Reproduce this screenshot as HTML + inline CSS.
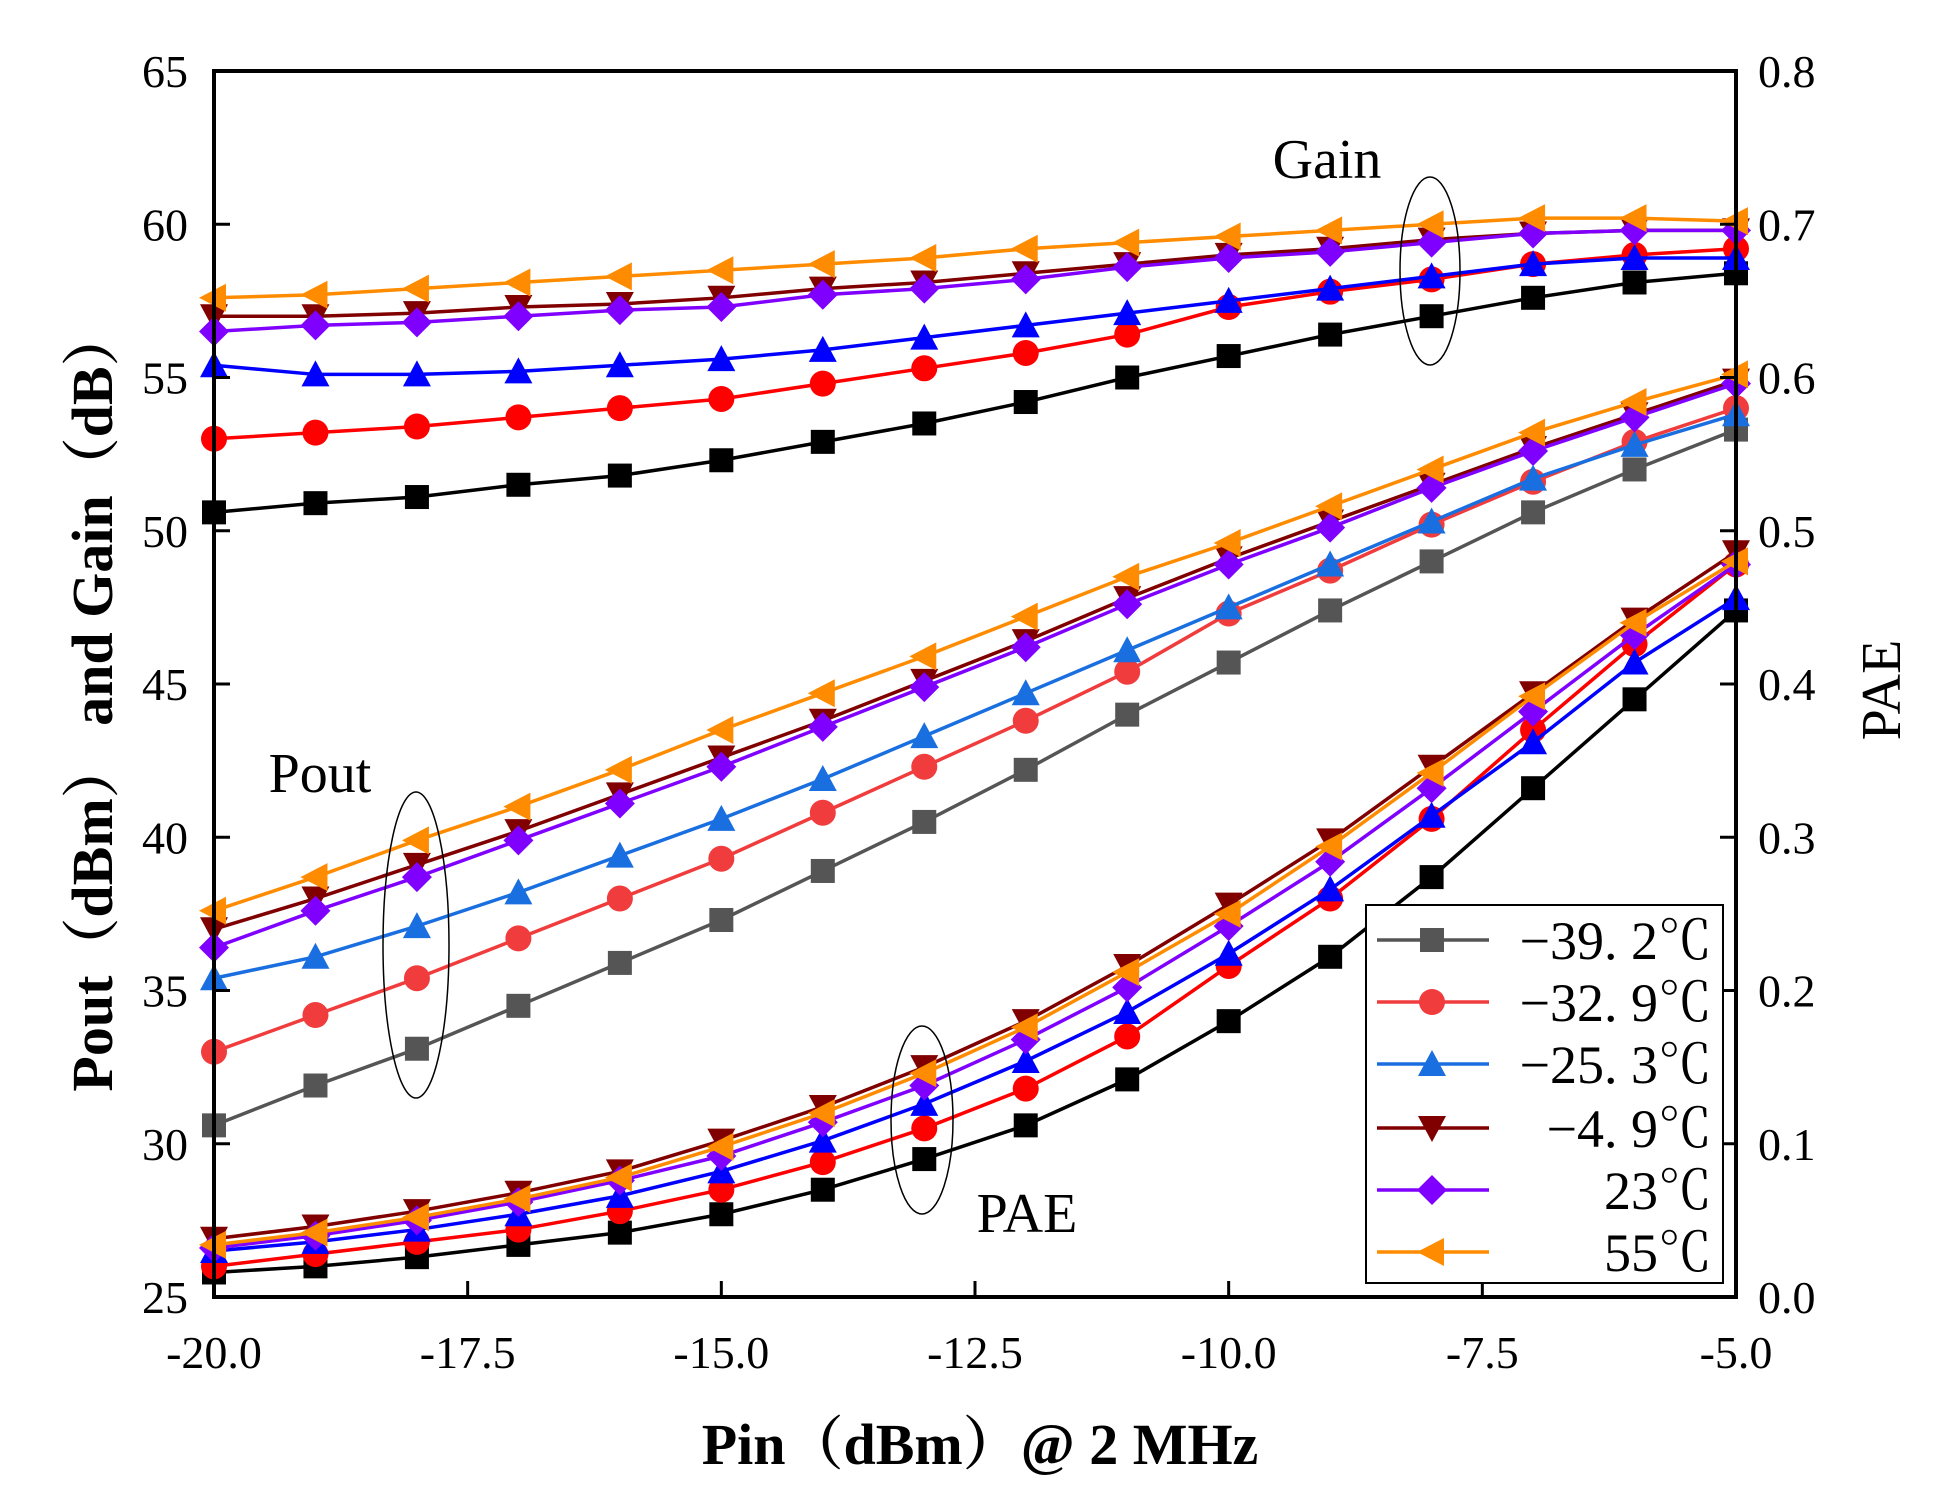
<!DOCTYPE html>
<html><head><meta charset="utf-8"><style>
html,body{margin:0;padding:0;background:#fff;}
svg{display:block;}
text{font-family:"Liberation Serif","Noto Serif CJK SC",serif;}
</style></head><body>
<svg id="s" width="1939" height="1506" viewBox="0 0 1939 1506" xmlns="http://www.w3.org/2000/svg">
<rect width="1939" height="1506" fill="#fff"/>
<g id="g"></g>
</svg>
<script>
const g=document.getElementById('g');
const NS='http://www.w3.org/2000/svg';
function el(t,a,txt){const e=document.createElementNS(NS,t);for(const k in a)e.setAttribute(k,a[k]);if(txt!==undefined)e.textContent=txt;g.appendChild(e);return e;}
const L=214,R=1736,T=71,B=1297;
const X=v=>L+(v+20)/15*(R-L);
const Y=v=>T+(65-v)/40*(B-T);
const xs=[];for(let i=-20;i<=-5;i++)xs.push(i);
function marker(type,x,y,c){const s=12;
 if(type=='sq')el('rect',{x:x-s,y:y-s,width:2*s,height:2*s,fill:c});
 else if(type=='ci')el('circle',{cx:x,cy:y,r:s+1,fill:c});
 else if(type=='up')el('polygon',{points:`${x},${y-s-2} ${x-s-2},${y+s} ${x+s+2},${y+s}`,fill:c});
 else if(type=='dn')el('polygon',{points:`${x},${y+s+2} ${x-s-2},${y-s} ${x+s+2},${y-s}`,fill:c});
 else if(type=='di')el('polygon',{points:`${x},${y-s-3} ${x+s+3},${y} ${x},${y+s+3} ${x-s-3},${y}`,fill:c});
 else if(type=='lt')el('polygon',{points:`${x-s-3},${y} ${x+s},${y-s-2} ${x+s},${y+s+2}`,fill:c});
}
function series(d,type,c){el('polyline',{points:d.map((v,i)=>X(xs[i])+','+Y(v)).join(' '),fill:'none',stroke:c,'stroke-width':3.5});
 d.forEach((v,i)=>marker(type,X(xs[i]),Y(v),c));}
const S=[
 {t:'sq',cg:'#000',cp:'#555',
  g:[50.6,50.9,51.1,51.5,51.8,52.3,52.9,53.5,54.2,55.0,55.7,56.4,57.0,57.6,58.1,58.4],
  p:[30.6,31.9,33.1,34.5,35.9,37.3,38.9,40.5,42.2,44.0,45.7,47.4,49.0,50.6,52.0,53.3],
  e:[25.8,26.0,26.3,26.7,27.1,27.7,28.5,29.5,30.6,32.1,34.0,36.1,38.7,41.6,44.5,47.4]},
 {t:'ci',cg:'#f00',cp:'#f03c3c',
  g:[53.0,53.2,53.4,53.7,54.0,54.3,54.8,55.3,55.8,56.4,57.3,57.8,58.2,58.7,59.0,59.2],
  p:[33.0,34.2,35.4,36.7,38.0,39.3,40.8,42.3,43.8,45.4,47.3,48.7,50.2,51.6,52.9,54.0],
  e:[26.0,26.4,26.8,27.2,27.8,28.5,29.4,30.5,31.8,33.5,35.8,38.0,40.6,43.5,46.3,48.9]},
 {t:'up',cg:'#00f',cp:'#1a6fe0',
  g:[55.4,55.1,55.1,55.2,55.4,55.6,55.9,56.3,56.7,57.1,57.5,57.9,58.3,58.7,58.9,58.9],
  p:[35.4,36.1,37.1,38.2,39.4,40.6,41.9,43.3,44.7,46.1,47.5,48.9,50.3,51.7,52.8,53.8],
  e:[26.5,26.8,27.2,27.7,28.3,29.1,30.1,31.3,32.7,34.3,36.2,38.3,40.7,43.1,45.7,47.8]},
 {t:'dn',cg:'#800000',cp:'#800000',
  g:[57.0,57.0,57.1,57.3,57.4,57.6,57.9,58.1,58.4,58.7,59.0,59.2,59.5,59.7,59.8,59.8],
  p:[37.0,38.0,39.1,40.2,41.4,42.6,43.8,45.1,46.4,47.8,49.1,50.3,51.5,52.7,53.8,54.9],
  e:[26.9,27.3,27.8,28.4,29.1,30.1,31.2,32.5,34.0,35.8,37.8,39.9,42.3,44.7,47.1,49.3]},
 {t:'di',cg:'#8000ff',cp:'#8000ff',
  g:[56.5,56.7,56.8,57.0,57.2,57.3,57.7,57.9,58.2,58.6,58.9,59.1,59.4,59.7,59.8,59.8],
  p:[36.4,37.6,38.7,39.9,41.1,42.3,43.6,44.9,46.2,47.6,48.9,50.1,51.4,52.6,53.7,54.8],
  e:[26.6,27.0,27.5,28.1,28.8,29.6,30.7,31.9,33.4,35.1,37.1,39.2,41.6,44.1,46.6,48.9]},
 {t:'lt',cg:'#ff8c00',cp:'#ff8c00',
  g:[57.6,57.7,57.9,58.1,58.3,58.5,58.7,58.9,59.2,59.4,59.6,59.8,60.0,60.2,60.2,60.1],
  p:[37.6,38.7,39.9,41.0,42.2,43.5,44.7,45.9,47.2,48.5,49.6,50.8,52.0,53.2,54.2,55.1],
  e:[26.7,27.1,27.6,28.2,28.9,29.9,31.0,32.3,33.8,35.6,37.5,39.7,42.1,44.6,47.0,49.0]}
];
S.forEach(s=>{series(s.g,s.t,s.cg);series(s.p,s.t,s.cp);series(s.e,s.t,s.cg);});
el('rect',{x:L,y:T,width:R-L,height:B-T,fill:'none',stroke:'#000','stroke-width':4});
for(let v=25;v<=65;v+=5){const y=Y(v);el('line',{x1:L,y1:y,x2:L+16,y2:y,stroke:'#000','stroke-width':3});el('line',{x1:R,y1:y,x2:R-16,y2:y,stroke:'#000','stroke-width':3});
 el('text',{x:188,y:y+16,'font-size':46,'text-anchor':'end'},String(v));
 el('text',{x:1758,y:y+16,'font-size':46},((v-25)/50).toFixed(1));}
for(let i=0;i<=6;i++){const v=-20+2.5*i,x=X(v);el('line',{x1:x,y1:B,x2:x,y2:B-16,stroke:'#000','stroke-width':3});
 el('text',{x:x,y:1368,'font-size':46,'text-anchor':'middle'},v.toFixed(1));}
el('text',{x:980,y:1464,'font-size':58,'font-weight':'bold','text-anchor':'middle'},'Pin（dBm）@ 2 MHz');
el('text',{transform:'translate(112,700) rotate(-90)','font-size':58,'font-weight':'bold','text-anchor':'middle'},'Pout（dBm） and Gain（dB）');
el('text',{transform:'translate(1900,690) rotate(-90)','font-size':56,'text-anchor':'middle'},'PAE');
el('text',{x:1327,y:178,'font-size':56,'text-anchor':'middle'},'Gain');
el('text',{x:320,y:792,'font-size':56,'text-anchor':'middle'},'Pout');
el('text',{x:1027,y:1232,'font-size':56,'text-anchor':'middle'},'PAE');
el('ellipse',{cx:1430,cy:271,rx:30,ry:94,fill:'none',stroke:'#000','stroke-width':1.5});
el('ellipse',{cx:416,cy:945,rx:33,ry:153,fill:'none',stroke:'#000','stroke-width':1.5});
el('ellipse',{cx:922,cy:1120,rx:31,ry:94,fill:'none',stroke:'#000','stroke-width':1.5});
el('rect',{x:1366,y:905,width:357,height:378,fill:'#fff',stroke:'#000','stroke-width':2});
const labs=['−39. 2℃','−32. 9℃','−25. 3℃','−4. 9℃','23℃','55℃'];
const ly=[940,1002,1064,1128,1190,1252];
S.forEach((s,i)=>{el('line',{x1:1377,y1:ly[i],x2:1489,y2:ly[i],stroke:s.cp,'stroke-width':3.5});marker(s.t,1432,ly[i],s.cp);
 el('text',{x:1712,y:ly[i]+19,'font-size':54,'text-anchor':'end'},labs[i]);});
</script>
</body></html>
